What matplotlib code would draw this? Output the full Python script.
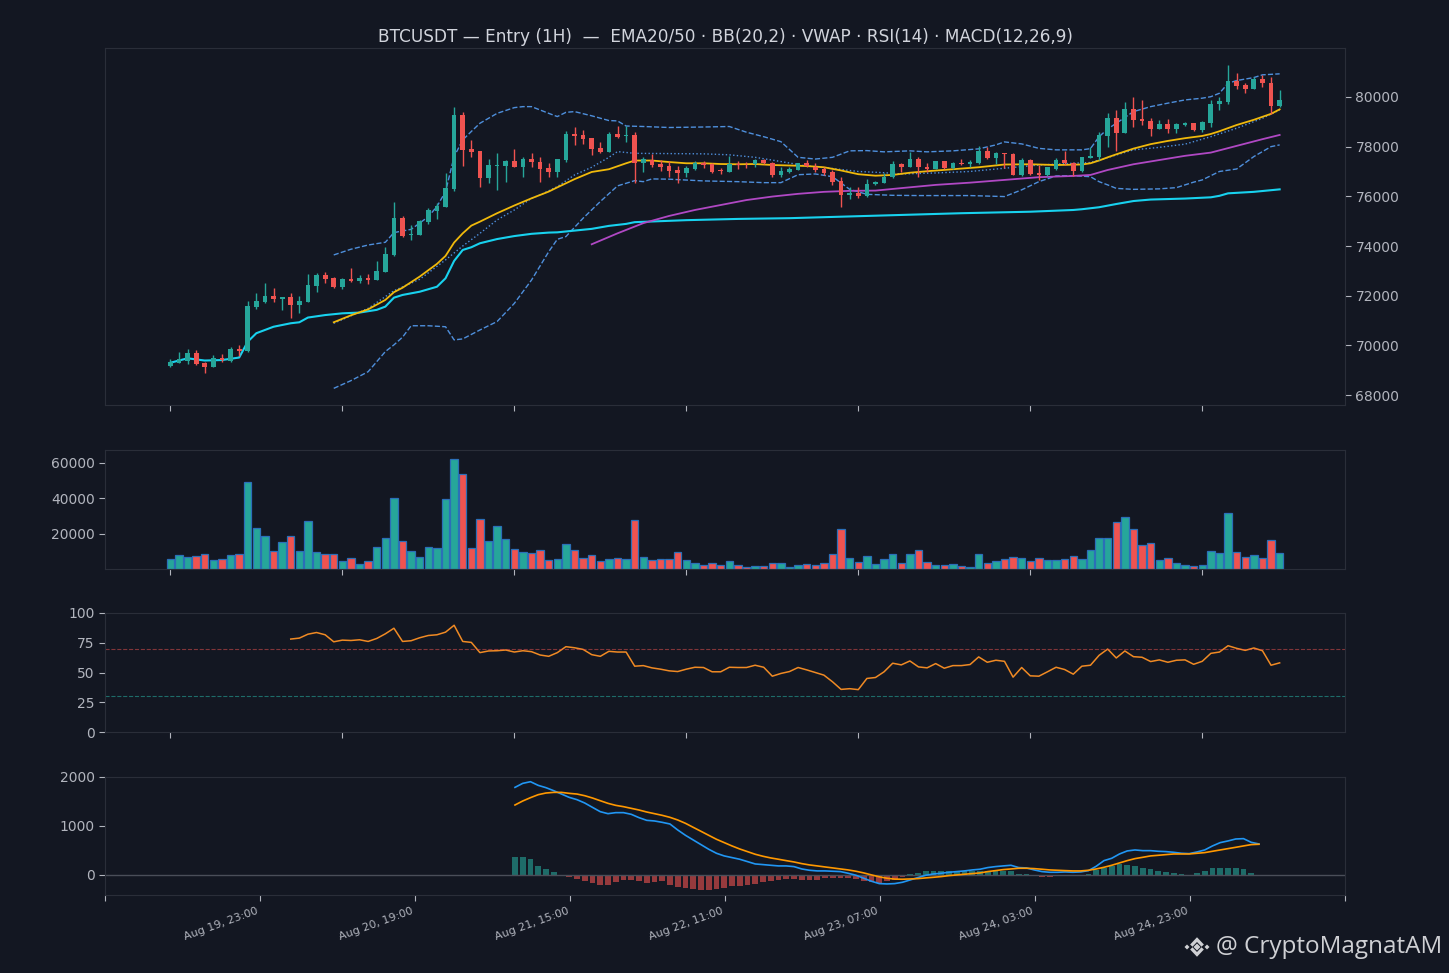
import numpy as np
import matplotlib
matplotlib.use("Agg")
import matplotlib.pyplot as plt
from matplotlib.patches import Polygon

# --- 1. DATA ---
OPEN = [69184, 69278, 69385, 69680, 69304, 69143, 69479, 69385, 69841, 69788,
        71559, 71747, 71988, 71881, 71935, 71626, 71760, 72391, 72834, 72713,
        72364, 72673, 72606, 72713, 72646, 72968, 73639, 75129, 74431, 74458,
        74968, 75424, 75585, 76296, 79276, 77920, 77826, 76753, 77236, 77236,
        77424, 77182, 77504, 77384, 77142, 76981, 77464, 78511, 78471, 78350,
        77934, 77786, 78511, 78430, 78471, 77357, 77464, 77317, 77223, 77062,
        76927, 77102, 77330, 77303, 77040, 76981, 77317, 77310, 77303, 77464,
        77330, 76847, 76981, 77062, 77330, 77196, 77115, 76968, 76619, 76055,
        76149, 76028, 76484, 76552, 76793, 77303, 77196, 77504, 77183, 77115,
        77411, 77156, 77340, 77317, 77330, 77827, 77558, 77733, 77706, 76861,
        77464, 76928, 76874, 77102, 77464, 77330, 77035, 77558, 77572, 78431,
        79142, 78565, 79504, 79115, 79035, 78726, 78900, 78726, 78887, 78941,
        78672, 78967, 79706, 79813, 80645, 80497, 80323, 80725, 80551, 79652]
HIGH = [69439, 69748, 69841, 69814, 69345, 69613, 69640, 69922, 70016, 71801,
        72096, 72499, 72297, 71960, 72096, 71988, 72861, 72901, 72941, 72767,
        72727, 73102, 72820, 72861, 73398, 73975, 75760, 75196, 74834, 75049,
        75518, 75719, 76927, 79584, 79396, 78269, 77840, 77491, 77732, 77464,
        77907, 77572, 77733, 77572, 77330, 77520, 78645, 78779, 78672, 78360,
        78202, 78578, 78847, 78847, 78605, 77572, 77706, 77464, 77424, 77223,
        77223, 77411, 77411, 77330, 77142, 77639, 77424, 77384, 77491, 77491,
        77370, 77169, 77169, 77357, 77464, 77330, 77169, 77062, 76766, 76391,
        76364, 76686, 76632, 76927, 77411, 77330, 77800, 77599, 77330, 77437,
        77424, 77371, 77491, 77464, 78028, 78001, 77800, 77745, 77733, 77532,
        77504, 77263, 77196, 77532, 77827, 77397, 77600, 78001, 78605, 79343,
        79477, 79813, 79987, 79880, 79169, 79075, 79102, 78967, 79008, 78967,
        79021, 79880, 80014, 81289, 80954, 80578, 80819, 80887, 80793, 80283]
LOW = [69117, 69278, 69251, 69211, 68875, 69117, 69345, 69331, 69573, 69748,
       71452, 71693, 71760, 71425, 71089, 71291, 71750, 72136, 72499, 72297,
       72257, 72566, 72499, 72458, 72633, 72960, 73612, 74350, 74243, 74445,
       74874, 75075, 75570, 76229, 77236, 77598, 76390, 76524, 76256, 76592,
       77169, 76766, 77169, 76565, 76793, 76793, 77370, 78068, 78095, 77666,
       77759, 77770, 78337, 78175, 76525, 76968, 77169, 77021, 76793, 76525,
       76793, 77062, 77129, 76927, 76887, 76970, 77089, 77129, 77196, 77303,
       76793, 76766, 76927, 77050, 77169, 76995, 76860, 76458, 75585, 75881,
       75921, 75961, 76458, 76525, 76726, 76995, 77180, 76793, 76995, 77089,
       77115, 77089, 77250, 77196, 77320, 77518, 77290, 77129, 76847, 76820,
       76861, 76659, 76820, 77062, 77263, 76820, 76995, 77532, 77464, 77974,
       77827, 78550, 78780, 78874, 78431, 78699, 78565, 78538, 78833, 78619,
       78605, 78780, 79477, 79706, 80323, 80148, 80310, 80417, 79316, 79612]
CLOSE = [69345, 69452, 69680, 69251, 69143, 69479, 69412, 69841, 69774, 71586,
         71787, 71988, 71868, 71948, 71626, 71787, 72431, 72834, 72686, 72351,
         72673, 72606, 72713, 72646, 72995, 73680, 75129, 74418, 74485, 75008,
         75437, 75612, 76337, 79276, 77866, 77799, 76753, 77263, 77263, 77424,
         77182, 77504, 77384, 77102, 76981, 77504, 78511, 78444, 78310, 77907,
         77786, 78511, 78390, 78450, 77357, 77504, 77263, 77182, 77035, 76954,
         77142, 77330, 77276, 76981, 77025, 77290, 77276, 77295, 77464, 77330,
         76860, 77021, 77102, 77330, 77236, 77062, 76941, 76592, 76055, 76149,
         76028, 76484, 76592, 76793, 77303, 77182, 77504, 77169, 77115, 77411,
         77142, 77344, 77320, 77384, 77827, 77558, 77733, 77693, 76861, 77464,
         76901, 76861, 77169, 77464, 77330, 77035, 77585, 77625, 78471, 79142,
         78565, 79504, 79075, 79021, 78726, 78900, 78726, 78914, 78941, 78672,
         78994, 79706, 79840, 80645, 80457, 80323, 80725, 80551, 79652, 79880]
VOLUME = [5770, 7880, 6730, 7300, 8460, 5000, 5580, 7880, 8460, 49400,
          23460, 18850, 10190, 15380, 18850, 10380, 26900, 9600, 8460, 8460,
          4420, 6150, 2690, 4420, 12500, 17700, 40200, 15960, 10190, 6730,
          12500, 11920, 39600, 62100, 54000, 11920, 28080, 15960, 24600, 17100,
          11350, 9600, 9040, 10770, 5000, 5580, 14230, 10770, 6150, 7880,
          4420, 5580, 6150, 5580, 27500, 6730, 5000, 5580, 5580, 9600,
          5000, 3270, 2120, 3270, 2120, 4420, 2120, 960, 1540, 1540,
          3270, 3270, 960, 2120, 2690, 2120, 3270, 8460, 22900, 6150,
          3850, 7300, 2690, 5580, 8460, 3270, 8460, 10770, 3850, 2120,
          2120, 2690, 1540, 960, 8460, 3270, 4420, 5580, 6730, 6150,
          4420, 6150, 5000, 5000, 5580, 7300, 5580, 10770, 17700, 17700,
          26350, 29230, 22900, 13650, 14800, 5000, 6150, 3270, 2120, 1540,
          2120, 10190, 9040, 31540, 9600, 6730, 7880, 6150, 16540, 9040]

# indicator lines as (candle index, price) points
VWAP = [(0, 69300), (2, 69480), (4, 69390), (6, 69410), (8, 69510), (9, 70150),
        (10, 70490), (12, 70750), (14, 70890), (15, 70930), (16, 71120), (18, 71220),
        (20, 71290), (22, 71320), (24, 71430), (25, 71560), (26, 71920), (27, 72030),
        (29, 72160), (31, 72360), (32, 72700), (33, 73400), (34, 73840), (35, 73950),
        (36, 74110), (38, 74280), (40, 74400), (42, 74490), (44, 74540), (45, 74550),
        (49, 74690), (51, 74810), (53, 74890), (54, 74960), (60, 75040), (66, 75090),
        (72, 75120), (78, 75180), (84, 75240), (87, 75270), (92, 75320), (100, 75380),
        (105, 75450), (106, 75480), (108, 75560), (110, 75690), (112, 75810),
        (114, 75870), (118, 75910), (121, 75960), (122, 76020), (123, 76120),
        (126, 76180), (129, 76280)]
EMA20 = [(19, 70930), (21, 71210), (23, 71450), (25, 71830), (26, 72140), (27, 72320),
         (29, 72770), (31, 73280), (32, 73600), (33, 74140), (34, 74510), (35, 74820),
         (36, 74980), (38, 75320), (40, 75630), (42, 75920), (44, 76190), (45, 76360),
         (47, 76690), (49, 76980), (51, 77090), (53, 77330), (54, 77440), (56, 77440),
         (58, 77380), (60, 77330), (62, 77330), (64, 77300), (66, 77290), (68, 77300),
         (70, 77260), (72, 77240), (74, 77220), (76, 77170), (78, 77040), (80, 76890),
         (82, 76830), (84, 76860), (86, 76950), (88, 77010), (91, 77090), (94, 77170),
         (97, 77280), (100, 77290), (103, 77260), (106, 77280), (107, 77330),
         (108, 77440), (109, 77570), (110, 77690), (112, 77920), (114, 78100),
         (116, 78230), (118, 78340), (120, 78430), (121, 78510), (122, 78620),
         (124, 78870), (126, 79080), (128, 79320), (129, 79500)]
EMA50 = [(49, 74070), (52, 74510), (55, 74920), (58, 75210), (61, 75450), (64, 75650),
         (67, 75850), (70, 75990), (73, 76100), (76, 76180), (79, 76220), (82, 76230),
         (85, 76330), (89, 76460), (93, 76550), (97, 76660), (101, 76770), (105, 76820),
         (107, 76860), (109, 77060), (112, 77290), (115, 77460), (118, 77630),
         (121, 77760), (124, 78030), (127, 78300), (129, 78470)]
BB_MID = [(19, 70890), (23, 71490), (26, 72200), (29, 72660), (32, 73440), (34, 74000),
          (36, 74510), (38, 75050), (40, 75450), (42, 75920), (43, 76055), (45, 76390),
          (47, 76860), (49, 77170), (51, 77570), (52, 77800), (54, 77730), (58, 77720),
          (62, 77710), (65, 77670), (68, 77570), (71, 77400), (74, 77220), (77, 77120),
          (80, 77000), (83, 76950), (85, 76900), (89, 76940), (93, 77000), (97, 77130),
          (101, 77260), (105, 77330), (107, 77360), (109, 77560), (112, 77870),
          (115, 77970), (118, 78100), (121, 78400), (124, 78740), (127, 79140),
          (129, 79480)]
BB_UP = [(19, 73640), (21, 73870), (23, 74040), (25, 74150), (26, 74540), (28, 74670),
         (30, 75180), (31, 75590), (32, 76190), (33, 77600), (34, 78270), (35, 78610),
         (36, 78940), (38, 79340), (40, 79570), (41, 79610), (42, 79610), (44, 79340),
         (45, 79210), (46, 79380), (47, 79410), (49, 79240), (51, 79050), (52, 79035),
         (53, 78830), (55, 78810), (58, 78770), (62, 78790), (65, 78810), (67, 78580),
         (69, 78400), (71, 78200), (73, 77570), (75, 77500), (77, 77570), (79, 77830),
         (81, 77840), (83, 77790), (86, 77830), (88, 77790), (91, 77830), (94, 77910),
         (96, 78070), (97, 78190), (99, 78110), (101, 77930), (103, 77870), (106, 77870),
         (107, 77920), (108, 78400), (109, 78710), (110, 78940), (112, 79410),
         (114, 79610), (116, 79750), (118, 79880), (120, 79950), (121, 80010),
         (122, 80150), (123, 80550), (124, 80660), (126, 80780), (127, 80890),
         (129, 80930)]
BB_LOW = [(19, 68270), (21, 68580), (23, 68940), (25, 69750), (26, 70020), (27, 70330),
          (28, 70790), (30, 70790), (32, 70750), (33, 70220), (34, 70260), (36, 70620),
          (38, 70960), (40, 71690), (42, 72630), (44, 73770), (45, 74270), (46, 74380),
          (48, 75120), (50, 75790), (52, 76420), (54, 76630), (55, 76590), (56, 76700),
          (58, 76690), (62, 76620), (66, 76590), (69, 76550), (71, 76550), (73, 76870),
          (75, 76900), (77, 76790), (79, 76280), (81, 76080), (84, 76040), (87, 76030),
          (89, 76030), (93, 76030), (97, 75990), (99, 76260), (101, 76590), (103, 76820),
          (105, 76830), (107, 76790), (108, 76590), (109, 76460), (110, 76320),
          (112, 76280), (115, 76300), (117, 76350), (119, 76570), (120, 76660),
          (122, 77000), (124, 77100), (126, 77600), (128, 78000), (129, 78070)]

RSI_START = 14
RSI = [78.1, 78.9, 82.2, 83.6, 81.7, 75.8, 77.2, 76.9, 77.5, 76.1,
       78.6, 82.5, 87.2, 76.1, 76.7, 79.2, 81.1, 81.7, 83.9, 89.7,
       76.1, 75.3, 66.7, 68.1, 68.3, 68.9, 67.2, 68.3, 67.5, 64.7,
       63.6, 66.7, 71.7, 70.8, 69.4, 65.0, 63.6, 67.8, 67.2, 67.2,
       55.3, 55.8, 53.9, 52.8, 51.4, 50.8, 52.8, 54.4, 54.2, 50.6,
       50.6, 54.4, 54.2, 54.2, 56.1, 54.4, 46.9, 49.2, 50.8, 54.2,
       52.2, 50.0, 47.8, 42.2, 35.8, 36.4, 35.6, 45.0, 45.8, 50.6,
       57.8, 56.4, 59.7, 54.7, 53.9, 57.5, 53.6, 55.8, 55.8, 56.7,
       63.1, 58.6, 60.3, 59.4, 46.1, 54.2, 47.2, 46.9, 50.6, 54.4,
       52.5, 48.6, 55.3, 56.1, 64.4, 69.7, 62.2, 68.1, 63.3, 62.8,
       59.2, 60.6, 58.6, 60.3, 60.6, 56.9, 59.4, 66.1, 67.2, 72.5,
       70.3, 68.6, 70.6, 68.3, 56.1, 58.1]

# MACD panel runs on its own hourly axis (hours from the left edge)
MACD_START_H = 52.9
MACD = [1788, 1870, 1904, 1829, 1782, 1720, 1652, 1584, 1537, 1469,
        1380, 1292, 1251, 1272, 1272, 1238, 1170, 1115, 1102, 1074,
        1040, 918, 809, 714, 619, 524, 442, 388, 354, 320,
        272, 224, 211, 197, 184, 184, 170, 122, 95, 82,
        82, 75, 68, 34, -7, -68, -129, -177, -184, -177,
        -150, -102, -54, -7, 20, 34, 54, 68, 82, 102,
        116, 150, 170, 184, 197, 150, 143, 102, 68, 54,
        54, 61, 54, 61, 88, 177, 292, 340, 428, 490,
        510, 496, 496, 483, 476, 462, 442, 435, 469, 510,
        592, 660, 694, 734, 741, 666, 632]
SIGNAL = [1428, 1510, 1578, 1639, 1673, 1686, 1686, 1666, 1652, 1618,
          1571, 1516, 1462, 1421, 1394, 1360, 1326, 1285, 1251, 1217,
          1176, 1122, 1054, 972, 891, 809, 728, 660, 592, 530,
          476, 422, 381, 347, 320, 292, 265, 231, 204, 184,
          163, 143, 122, 102, 75, 41, 0, -38, -68, -85,
          -88, -82, -75, -61, -48, -34, -14, 0, 14, 27,
          41, 68, 88, 109, 122, 136, 136, 129, 116, 102,
          95, 88, 82, 82, 95, 122, 156, 197, 245, 292,
          333, 360, 388, 401, 415, 428, 428, 428, 442, 456,
          483, 510, 537, 564, 592, 619, 626]
HIST = [367, 367, 326, 184, 122, 61, 0, -41, -82, -122,
        -163, -204, -204, -143, -102, -102, -122, -163, -143, -122,
        -204, -245, -265, -286, -299, -299, -286, -265, -224, -224,
        -204, -184, -143, -122, -102, -82, -82, -102, -102, -102,
        -61, -61, -61, -61, -82, -122, -143, -163, -122, -102,
        -41, 20, 41, 82, 82, 82, 82, 82, 82, 82,
        82, 82, 102, 82, 82, 20, 20, -20, -41, -41,
        -14, -14, -14, 0, 20, 102, 143, 184, 224, 204,
        184, 143, 122, 82, 61, 41, 20, 0, 41, 82,
        143, 143, 143, 143, 122, 41, 0]

TIME_LABELS = ["", "Aug 19, 23:00", "Aug 20, 19:00", "Aug 21, 15:00", "Aug 22, 11:00",
               "Aug 23, 07:00", "Aug 24, 03:00", "Aug 24, 23:00", ""]

TITLE = "BTCUSDT — Entry (1H)  —  EMA20/50 · BB(20,2) · VWAP · RSI(14) · MACD(12,26,9)"

# --- 2. STYLE ---
BG = "#131722"
SPINE = "#2a2e39"
TXT = "#b2b5be"
UP, DN = "#26a69a", "#ef5350"

plt.rcParams["font.family"] = ["DejaVu Sans"]

fig = plt.figure(figsize=(14.49, 9.73), dpi=100, facecolor=BG)
L, W = 105 / 1449, 1240 / 1449


def rect(top, bot):
    return [L, 1 - bot / 973, W, (bot - top) / 973]


ax_p = fig.add_axes(rect(48, 405))
ax_v = fig.add_axes(rect(450, 569), sharex=ax_p)
ax_r = fig.add_axes(rect(613, 732), sharex=ax_p)
ax_m = fig.add_axes(rect(777, 895))

for ax in (ax_p, ax_v, ax_r, ax_m):
    ax.set_facecolor(BG)
    for s in ax.spines.values():
        s.set_color(SPINE)
    ax.tick_params(colors=TXT, labelsize=10, length=4)

n = len(CLOSE)
idx = np.arange(n)
colors = [UP if c >= o else DN for o, c in zip(OPEN, CLOSE)]

# --- 3. PRICE PANEL ---
ax_p.vlines(idx, LOW, HIGH, colors=colors, linewidth=1, zorder=3)
body_lo = np.minimum(OPEN, CLOSE)
body_h = np.maximum(np.abs(np.array(CLOSE) - np.array(OPEN)), 18)
ax_p.bar(idx, body_h, bottom=body_lo, width=0.55, color=colors, zorder=4)


def line(ax, pts, **kw):
    x, y = zip(*pts)
    ax.plot(x, y, **kw)


line(ax_p, BB_UP, color="#4e8fdc", lw=1.0, ls="--", zorder=2)
line(ax_p, BB_LOW, color="#4e8fdc", lw=1.0, ls="--", zorder=2)
line(ax_p, BB_MID, color="#4e8fdc", lw=1.0, ls=":", zorder=2)
line(ax_p, VWAP, color="#18d2ef", lw=1.5, zorder=2)
line(ax_p, EMA50, color="#b048c4", lw=1.3, zorder=2)
line(ax_p, EMA20, color="#f0b90b", lw=1.3, zorder=2)

ax_p.set_xlim(-7.6, 136.6)
ax_p.set_ylim(67600, 81970)
ax_p.set_yticks(np.arange(68000, 80001, 2000))
ax_p.yaxis.tick_right()
ax_p.set_xticks(np.arange(0, 121, 20))
ax_p.tick_params(axis="x", labelbottom=False)
ax_p.set_title(TITLE, color="#d1d4dc", fontsize=12.2, pad=4)

# --- 4. VOLUME ---
ax_v.bar(idx, VOLUME, width=0.85, color=colors, edgecolor="#2b6fb8", linewidth=0.9)
ax_v.set_ylim(0, 67300)
ax_v.set_yticks([20000, 40000, 60000])
ax_v.tick_params(axis="x", labelbottom=False)

# --- 5. RSI ---
ax_r.plot(np.arange(RSI_START, RSI_START + len(RSI)), RSI, color="#f08a24", lw=1.1)
ax_r.axhline(70, color=DN, lw=0.8, ls="--", alpha=0.5)
ax_r.axhline(30, color=UP, lw=0.8, ls="--", alpha=0.6)
ax_r.set_ylim(0, 100)
ax_r.set_yticks([0, 25, 50, 75, 100])
ax_r.tick_params(axis="x", labelbottom=False)

# --- 6. MACD (own time axis) ---
hx = MACD_START_H + np.arange(len(MACD))
hcol = [UP if h >= 0 else DN for h in HIST]
ax_m.bar(hx, HIST, width=0.72, color=hcol, alpha=0.6)
ax_m.axhline(0, color="#4a4e59", lw=1)
ax_m.plot(hx, MACD, color="#2196f3", lw=1.2)
ax_m.plot(hx, SIGNAL, color="#ff9800", lw=1.2)
ax_m.set_xlim(0, 160)
ax_m.set_ylim(-410, 2000)
ax_m.set_yticks([0, 1000, 2000])
ax_m.set_xticks(np.linspace(0, 160, 9))
ax_m.set_xticklabels(TIME_LABELS, rotation=20, ha="right", fontsize=8)

# --- 7. WATERMARK ---
WM = "#cfd0d4"
fig.text(1216 / 1449, 1 - 947 / 973, "@ CryptoMagnatAM", color=WM,
         fontsize=17.5, family=["Open Sans", "DejaVu Sans"], va="center", ha="left")

# small exchange-style logo left of the handle (pixel units around its centre)
cx, cy, s = 1197, 947, 12.5
shapes = [
    [(0, 0.28), (0.28, 0), (0, -0.28), (-0.28, 0)],
    [(-0.55, 0.2), (0, 0.78), (0.55, 0.2), (0.36, 0.02), (0, 0.4), (-0.36, 0.02)],
    [(-0.55, -0.2), (0, -0.78), (0.55, -0.2), (0.36, -0.02), (0, -0.4), (-0.36, -0.02)],
    [(-1.0, 0), (-0.8, 0.2), (-0.6, 0), (-0.8, -0.2)],
    [(1.0, 0), (0.8, 0.2), (0.6, 0), (0.8, -0.2)],
]
for pts in shapes:
    xy = [((cx + px * s) / 1449, 1 - (cy - py * s) / 973) for px, py in pts]
    fig.patches.append(Polygon(xy, closed=True, transform=fig.transFigure,
                               facecolor=WM, edgecolor="none", zorder=5))

fig.savefig("out.png", dpi=100, facecolor=BG)
